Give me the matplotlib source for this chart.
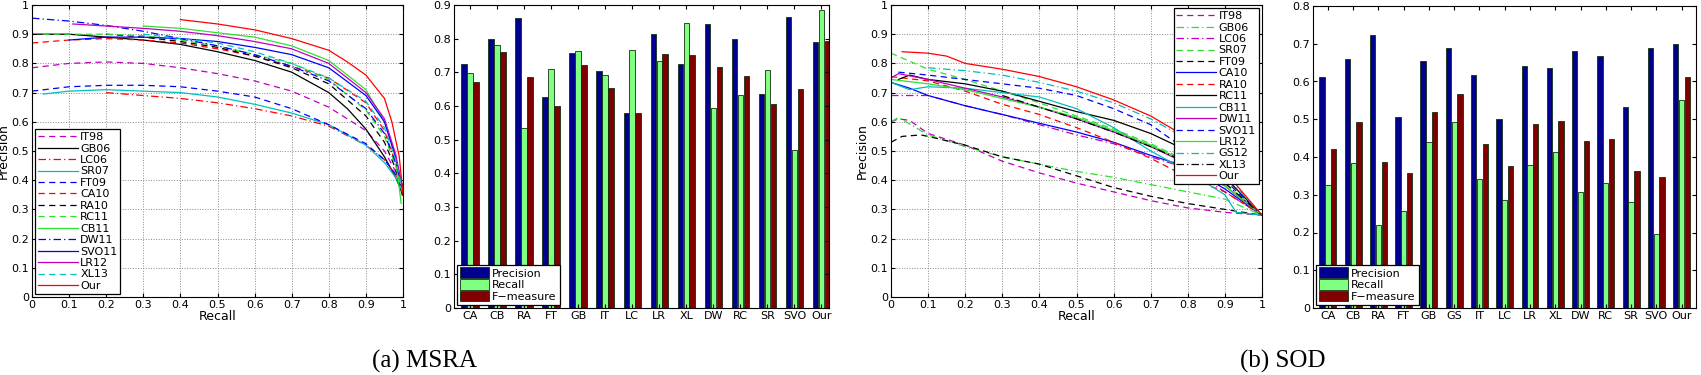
import numpy as np
import matplotlib
matplotlib.use("Agg")
import matplotlib.pyplot as plt

plt.rcParams['font.family'] = 'DejaVu Sans'
plt.rcParams['xtick.direction'] = 'in'
plt.rcParams['ytick.direction'] = 'in'

# ---------- MSRA precision-recall curves (recall, precision) ----------
msra_recall = {
    'IT98':  [0.0, 0.1, 0.2, 0.3, 0.4, 0.5, 0.6, 0.7, 0.8, 0.9, 0.95, 0.98, 1.0],
    'GB06':  [0.0, 0.1, 0.2, 0.3, 0.4, 0.5, 0.6, 0.7, 0.8, 0.85, 0.9, 0.95, 0.98, 1.0],
    'LC06':  [0.2, 0.3, 0.4, 0.5, 0.6, 0.7, 0.8, 0.9, 0.95, 0.98, 1.0],
    'SR07':  [0.03, 0.1, 0.2, 0.3, 0.4, 0.5, 0.6, 0.7, 0.8, 0.9, 0.95, 0.98, 1.0],
    'FT09':  [0.0, 0.1, 0.2, 0.3, 0.4, 0.5, 0.6, 0.7, 0.8, 0.9, 0.95, 0.98, 1.0],
    'CA10':  [0.0, 0.1, 0.2, 0.3, 0.4, 0.5, 0.6, 0.7, 0.8, 0.9, 0.95, 0.98, 1.0],
    'RA10':  [0.2, 0.3, 0.4, 0.5, 0.6, 0.7, 0.8, 0.9, 0.95, 0.98, 1.0],
    'RC11':  [0.03, 0.1, 0.2, 0.3, 0.4, 0.5, 0.6, 0.7, 0.8, 0.9, 0.95, 0.98, 1.0],
    'CB11':  [0.3, 0.4, 0.5, 0.6, 0.7, 0.8, 0.9, 0.95, 0.98, 0.995],
    'DW11':  [0.0, 0.1, 0.2, 0.3, 0.4, 0.5, 0.6, 0.7, 0.8, 0.9, 0.95, 0.98, 1.0],
    'SVO11': [0.1, 0.2, 0.3, 0.4, 0.5, 0.6, 0.7, 0.8, 0.9, 0.95, 0.98, 1.0],
    'LR12':  [0.11, 0.2, 0.3, 0.4, 0.5, 0.6, 0.7, 0.8, 0.9, 0.95, 0.98, 1.0],
    'XL13':  [0.3, 0.4, 0.5, 0.6, 0.7, 0.8, 0.9, 0.95, 0.98, 1.0],
    'Our':   [0.4, 0.5, 0.6, 0.7, 0.8, 0.85, 0.9, 0.95, 0.97, 0.99, 1.0],
}
msra_precision = {
    'IT98':  [0.785, 0.8, 0.805, 0.8, 0.785, 0.765, 0.74, 0.705, 0.65, 0.57, 0.5, 0.43, 0.36],
    'GB06':  [0.9, 0.9, 0.89, 0.88, 0.865, 0.84, 0.81, 0.77, 0.7, 0.645, 0.575, 0.48, 0.41, 0.35],
    'LC06':  [0.7, 0.69, 0.68, 0.665, 0.645, 0.62, 0.585, 0.52, 0.47, 0.42, 0.36],
    'SR07':  [0.695, 0.705, 0.71, 0.705, 0.7, 0.685, 0.66, 0.63, 0.59, 0.52, 0.46, 0.41, 0.36],
    'FT09':  [0.705, 0.72, 0.725, 0.725, 0.72, 0.705, 0.685, 0.645, 0.59, 0.525, 0.47, 0.42, 0.36],
    'CA10':  [0.87, 0.88, 0.885, 0.88, 0.87, 0.85, 0.825, 0.79, 0.75, 0.665, 0.57, 0.46, 0.37],
    'RA10':  [0.9, 0.89, 0.875, 0.855, 0.825, 0.785, 0.73, 0.62, 0.53, 0.44, 0.34],
    'RC11':  [0.9, 0.9, 0.9, 0.895, 0.88, 0.86, 0.83, 0.8, 0.745, 0.64, 0.55, 0.45, 0.35],
    'CB11':  [0.928, 0.92, 0.905, 0.89, 0.86, 0.81, 0.71, 0.6, 0.48, 0.32],
    'DW11':  [0.955, 0.945, 0.93, 0.91, 0.885, 0.86, 0.83, 0.79, 0.74, 0.645, 0.56, 0.46, 0.37],
    'SVO11': [0.88, 0.89, 0.89, 0.885, 0.875, 0.855, 0.83, 0.785, 0.69, 0.6, 0.48, 0.37],
    'LR12':  [0.935, 0.928, 0.92, 0.91, 0.895, 0.875, 0.85, 0.8, 0.7, 0.61, 0.49, 0.36],
    'XL13':  [0.9, 0.885, 0.87, 0.84, 0.8, 0.75, 0.67, 0.58, 0.47, 0.36],
    'Our':   [0.95, 0.935, 0.915, 0.885, 0.845, 0.805, 0.76, 0.68, 0.6, 0.48, 0.35],
}
GREEN = '#2ee02e'
DASH = (0, (5, 3.5))
DASHDOT = (0, (6, 2.5, 1, 2.5))
msra_style = {
    'IT98': ('m', DASH), 'GB06': ('k', '-'), 'LC06': ('r', DASHDOT), 'SR07': ('c', '-'),
    'FT09': ('b', DASH), 'CA10': ('r', DASH), 'RA10': ('k', DASH), 'RC11': (GREEN, DASH),
    'CB11': (GREEN, '-'), 'DW11': ('b', DASHDOT), 'SVO11': ('b', '-'), 'LR12': ('m', '-'),
    'XL13': ('c', DASH), 'Our': ('r', '-'),
}

# ---------- SOD precision-recall curves ----------
sod_recall = {
    'IT98':  [0.0, 0.02, 0.05, 0.1, 0.2, 0.3, 0.4, 0.5, 0.6, 0.7, 0.8, 0.9, 1.0],
    'GB06':  [0.0, 0.02, 0.1, 0.2, 0.3, 0.4, 0.5, 0.6, 0.7, 0.8, 0.9, 1.0],
    'LC06':  [0.0, 0.1, 0.2, 0.3, 0.4, 0.5, 0.6, 0.7, 0.8, 0.9, 1.0],
    'SR07':  [0.0, 0.1, 0.2, 0.3, 0.4, 0.5, 0.6, 0.7, 0.8, 0.9, 1.0],
    'FT09':  [0.0, 0.03, 0.08, 0.1, 0.2, 0.3, 0.4, 0.5, 0.6, 0.7, 0.8, 0.9, 1.0],
    'CA10':  [0.0, 0.05, 0.1, 0.2, 0.3, 0.4, 0.5, 0.6, 0.7, 0.8, 0.9, 1.0],
    'RA10':  [0.0, 0.1, 0.2, 0.3, 0.4, 0.5, 0.6, 0.7, 0.8, 0.9, 1.0],
    'RC11':  [0.02, 0.05, 0.1, 0.2, 0.3, 0.4, 0.5, 0.6, 0.7, 0.8, 0.9, 1.0],
    'CB11':  [0.0, 0.05, 0.1, 0.2, 0.3, 0.4, 0.5, 0.6, 0.7, 0.8, 0.9, 0.93, 1.0],
    'DW11':  [0.0, 0.02, 0.1, 0.2, 0.3, 0.4, 0.5, 0.6, 0.7, 0.8, 0.9, 1.0],
    'SVO11': [0.02, 0.1, 0.2, 0.3, 0.4, 0.5, 0.6, 0.7, 0.8, 0.9, 1.0],
    'LR12':  [0.0, 0.1, 0.2, 0.3, 0.4, 0.5, 0.6, 0.7, 0.8, 0.9, 1.0],
    'GS12':  [0.1, 0.2, 0.3, 0.4, 0.5, 0.6, 0.7, 0.8, 0.9, 1.0],
    'XL13':  [0.3, 0.4, 0.5, 0.6, 0.7, 0.8, 0.9, 1.0],
    'Our':   [0.03, 0.1, 0.15, 0.2, 0.3, 0.4, 0.5, 0.6, 0.7, 0.8, 0.9, 1.0],
}
sod_precision = {
    'IT98':  [0.6, 0.61, 0.605, 0.56, 0.52, 0.465, 0.425, 0.39, 0.36, 0.33, 0.305, 0.29, 0.28],
    'GB06':  [0.6, 0.615, 0.555, 0.515, 0.48, 0.455, 0.43, 0.41, 0.385, 0.36, 0.335, 0.28],
    'LC06':  [0.69, 0.69, 0.655, 0.625, 0.59, 0.555, 0.525, 0.48, 0.44, 0.36, 0.28],
    'SR07':  [0.835, 0.78, 0.745, 0.705, 0.665, 0.62, 0.575, 0.525, 0.465, 0.39, 0.28],
    'FT09':  [0.53, 0.55, 0.555, 0.55, 0.52, 0.48, 0.455, 0.415, 0.375, 0.345, 0.32, 0.3, 0.28],
    'CA10':  [0.735, 0.715, 0.69, 0.655, 0.625, 0.595, 0.565, 0.53, 0.485, 0.445, 0.37, 0.28],
    'RA10':  [0.755, 0.74, 0.705, 0.66, 0.625, 0.58, 0.53, 0.475, 0.41, 0.36, 0.28],
    'RC11':  [0.745, 0.76, 0.745, 0.73, 0.705, 0.67, 0.635, 0.605, 0.56, 0.5, 0.41, 0.28],
    'CB11':  [0.735, 0.71, 0.72, 0.715, 0.7, 0.685, 0.645, 0.58, 0.5, 0.43, 0.35, 0.29, 0.28],
    'DW11':  [0.75, 0.765, 0.745, 0.715, 0.685, 0.65, 0.61, 0.565, 0.515, 0.455, 0.38, 0.28],
    'SVO11': [0.77, 0.76, 0.745, 0.73, 0.715, 0.69, 0.645, 0.59, 0.5, 0.4, 0.28],
    'LR12':  [0.745, 0.73, 0.71, 0.68, 0.65, 0.615, 0.57, 0.52, 0.46, 0.38, 0.28],
    'GS12':  [0.785, 0.775, 0.76, 0.735, 0.705, 0.665, 0.61, 0.54, 0.42, 0.28],
    'XL13':  [0.69, 0.65, 0.61, 0.565, 0.515, 0.46, 0.39, 0.28],
    'Our':   [0.84, 0.835, 0.825, 0.8, 0.78, 0.755, 0.72, 0.675, 0.62, 0.545, 0.43, 0.28],
}
sod_style = {
    'IT98': ('m', DASH), 'GB06': (GREEN, DASHDOT), 'LC06': ('m', DASHDOT), 'SR07': (GREEN, DASH),
    'FT09': ('k', DASH), 'CA10': ('b', '-'), 'RA10': ('r', DASH), 'RC11': ('k', '-'),
    'CB11': ('c', '-'), 'DW11': ('m', '-'), 'SVO11': ('b', DASH), 'LR12': (GREEN, '-'),
    'GS12': ('c', DASHDOT), 'XL13': ('k', DASHDOT), 'Our': ('r', '-'),
}

# ---------- bar data ----------
msra_methods = ['CA', 'CB', 'RA', 'FT', 'GB', 'IT', 'LC', 'LR', 'XL', 'DW', 'RC', 'SR', 'SVO', 'Our']
msra_prec = [0.725, 0.80, 0.86, 0.627, 0.757, 0.705, 0.58, 0.813, 0.725, 0.845, 0.80, 0.635, 0.863, 0.79]
msra_rec = [0.698, 0.78, 0.535, 0.71, 0.762, 0.692, 0.765, 0.735, 0.848, 0.595, 0.632, 0.707, 0.47, 0.885]
msra_f = [0.672, 0.76, 0.685, 0.60, 0.722, 0.653, 0.58, 0.755, 0.752, 0.716, 0.69, 0.606, 0.65, 0.792]

sod_methods = ['CA', 'CB', 'RA', 'FT', 'GB', 'GS', 'IT', 'LC', 'LR', 'XL', 'DW', 'RC', 'SR', 'SVO', 'Our']
sod_prec = [0.613, 0.66, 0.722, 0.505, 0.655, 0.69, 0.616, 0.50, 0.642, 0.637, 0.68, 0.668, 0.532, 0.69, 0.70]
sod_rec = [0.327, 0.383, 0.22, 0.256, 0.44, 0.492, 0.343, 0.285, 0.38, 0.412, 0.306, 0.33, 0.28, 0.195, 0.55]
sod_f = [0.42, 0.492, 0.386, 0.357, 0.518, 0.566, 0.434, 0.376, 0.487, 0.495, 0.442, 0.447, 0.364, 0.346, 0.611]

bar_colors = ['#00008f', '#80ff80', '#800000']
bar_labels = ['Precision', 'Recall', 'F\u2212measure']

W, H = 1701, 375
fig = plt.figure(figsize=(W / 100, H / 100), dpi=100)


def add_ax(left, top, right, bottom):
    return fig.add_axes([left / W, 1 - bottom / H, (right - left) / W, (bottom - top) / H])


def pr_panel(ax, recall, precision, style, legend_loc, bbox):
    for name in recall:
        c, ls = style[name]
        ax.plot(recall[name], precision[name], color=c, linestyle=ls, lw=0.9, label=name)
    ax.set_xlim(0, 1)
    ax.set_ylim(0, 1)
    ax.set_xticks(np.arange(0, 1.01, 0.1))
    ax.set_yticks(np.arange(0, 1.01, 0.1))
    ax.set_xticklabels(['0'] + ['%.1f' % v for v in np.arange(0.1, 0.95, 0.1)] + ['1'])
    ax.set_yticklabels(['0'] + ['%.1f' % v for v in np.arange(0.1, 0.95, 0.1)] + ['1'])
    ax.grid(True, linestyle=':', color='#888888', lw=0.7)
    ax.tick_params(labelsize=8, top=True, right=True, length=3, pad=2)
    ax.set_xlabel('Recall', fontsize=9, labelpad=0)
    ax.set_ylabel('Precision', fontsize=9, labelpad=1)
    leg = ax.legend(loc=legend_loc, bbox_to_anchor=bbox, fontsize=8, handlelength=3.6,
                    handletextpad=0.2, labelspacing=0.13, borderpad=0.25, borderaxespad=0.3,
                    fancybox=False, framealpha=1)
    leg.get_frame().set_edgecolor('k')
    leg.get_frame().set_linewidth(0.9)


def bar_panel(ax, methods, prec, rec, f, ymax, xlim, width, step):
    x = np.arange(1, len(methods) + 1)
    for off, vals, col, lab in zip([-step, 0, step], [prec, rec, f], bar_colors, bar_labels):
        ax.bar(x + off, vals, width, color=col, edgecolor='#103010', lw=0.6, label=lab)
    ax.set_xlim(*xlim)
    ax.set_ylim(0, ymax)
    ax.set_xticks(x)
    ax.set_xticklabels(methods)
    ax.set_yticks(np.arange(0, ymax + 0.001, 0.1))
    ax.set_yticklabels(['0'] + ['%.1f' % v for v in np.arange(0.1, ymax + 0.001, 0.1)])
    ax.tick_params(labelsize=8, top=True, right=True, length=3, pad=2)
    leg = ax.legend(loc='lower left', fontsize=8, handlelength=2.6, handleheight=1.1,
                    handletextpad=0.3, labelspacing=0.05, borderpad=0.25, borderaxespad=0.3,
                    fancybox=False, framealpha=1)
    leg.get_frame().set_edgecolor('k')
    leg.get_frame().set_linewidth(0.9)


ax1 = add_ax(32, 5, 403, 297)
pr_panel(ax1, msra_recall, msra_precision, msra_style, 'lower left', (0.0, 0.0))

ax2 = add_ax(454, 5, 829, 308)
bar_panel(ax2, msra_methods, msra_prec, msra_rec, msra_f, 0.9, (0.41, 14.28), 0.2, 0.22)

ax3 = add_ax(891, 5, 1262, 297)
pr_panel(ax3, sod_recall, sod_precision, sod_style, 'upper right', (1.0, 1.0))

ax4 = add_ax(1313, 6, 1696, 308)
bar_panel(ax4, sod_methods, sod_prec, sod_rec, sod_f, 0.8, (0.41, 15.57), 0.21, 0.23)

fig.text(424 / W, 1 - 361 / H, '(a) MSRA', ha='center', va='center', fontsize=18,
         family='Liberation Serif')
fig.text(1283 / W, 1 - 361 / H, '(b) SOD', ha='center', va='center', fontsize=18,
         family='Liberation Serif')

fig.savefig('out.png', dpi=100)
